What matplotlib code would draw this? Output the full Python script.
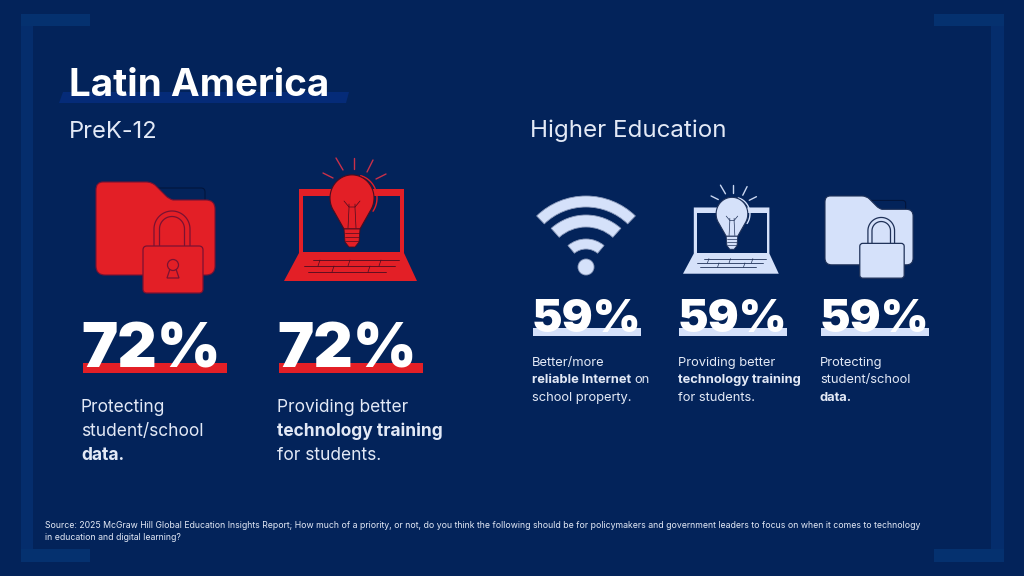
import matplotlib
matplotlib.use("Agg")
import matplotlib.pyplot as plt
import numpy as np
from matplotlib.patches import Rectangle, Polygon, Circle, Wedge, FancyBboxPatch, PathPatch
from matplotlib.path import Path

BG = "#03235a"
FRAME = "#05316f"
RED = "#e31f26"
PALE = "#d5e1fa"
TXT = "#e3e9f6"
FONT = "Inter"

title = "Latin America"
group_names = ["PreK-12", "Higher Education"]
source_lines = [
    "Source: 2025 McGraw Hill Global Education Insights Report; How much of a priority, or not, do you think the following should be for policymakers and government leaders to focus on when it comes to technology",
    "in education and digital learning?",
]

prek_values = [72, 72]
prek_icons = ["folder", "laptop"]
prek_labels = [
    [[("Protecting", False)], [("student/school", False)], [("data.", True)]],
    [[("Providing better", False)], [("technology training", True)], [("for students.", False)]],
]

higher_values = [59, 59, 59]
higher_icons = ["wifi", "laptop", "folder"]
higher_labels = [
    [[("Better/more", False)], [("reliable Internet", True), (" on", False)], [("school property.", False)]],
    [[("Providing better", False)], [("technology training", True)], [("for students.", False)]],
    [[("Protecting", False)], [("student/school", False)], [("data.", True)]],
]

fig = plt.figure(figsize=(10.24, 5.76), dpi=100, facecolor=BG)
ax = fig.add_axes([0, 0, 1, 1])
ax.set_xlim(0, 1024)
ax.set_ylim(576, 0)
ax.axis("off")


def box(x0, y0, x1, y1, color, z=1):
    ax.add_patch(Rectangle((x0, y0), x1 - x0, y1 - y0, fc=color, ec="none", zorder=z))


def rbox(x0, y0, x1, y1, r, fc, ec, lw=0.8, z=3):
    ax.add_patch(FancyBboxPatch((x0 + r, y0 + r), x1 - x0 - 2 * r, y1 - y0 - 2 * r,
                                boxstyle=f"round,pad={r}", fc=fc, ec=ec, lw=lw, zorder=z))


def line(xs, ys, color, lw=1.0, z=4):
    ax.plot(xs, ys, color=color, lw=lw, zorder=z, solid_capstyle="round")


# folder with padlock, box is x, y, scale from the red one (119 wide)
def folder_icon(x, y, s, fill, dark):
    def X(v):
        return x + v * s

    def Y(v):
        return y + v * s

    # back sheet
    rbox(X(30), Y(6), X(109), Y(40), 4 * s, "none", "#02153c", 0.8, 2)
    verts = [(7, 0), (50, 0), (56, 0), (60, 4), (70, 14), (73, 17), (77, 18), (110, 18), (119, 18),
             (119, 27), (119, 84), (119, 93), (110, 93), (9, 93), (0, 93), (0, 84), (0, 8), (0, 0), (7, 0)]
    codes = [Path.MOVETO, Path.LINETO, Path.CURVE3, Path.CURVE3, Path.LINETO, Path.CURVE3, Path.CURVE3,
             Path.LINETO, Path.CURVE3, Path.CURVE3, Path.LINETO, Path.CURVE3, Path.CURVE3, Path.LINETO,
             Path.CURVE3, Path.CURVE3, Path.LINETO, Path.CURVE3, Path.CURVE3]
    pts = [(X(a), Y(b)) for a, b in verts]
    ax.add_patch(PathPatch(Path(pts, codes), fc=fill, ec=dark, lw=0.8, zorder=3))
    # shackle
    t = np.linspace(np.pi, 2 * np.pi, 40)
    cx, cy = 76, 47
    for r in (18, 12.5):
        xs = np.r_[cx - r, cx + r * np.cos(t), cx + r]
        ys = np.r_[65, cy + r * np.sin(t), 65]
        line(X(xs), Y(ys), dark, 0.9, 4)
    rbox(X(47), Y(64), X(107), Y(111), 4 * s, fill, dark, 0.9, 5)
    # keyhole
    if s > 0.9:
        ax.add_patch(Circle((X(77), Y(83)), 5.5 * s, fc="none", ec=dark, lw=0.9, zorder=6))
        ax.add_patch(Polygon([(X(74), Y(87)), (X(71), Y(96)), (X(83), Y(96)), (X(80), Y(87))],
                             closed=False, fc="none", ec=dark, lw=0.9, zorder=6))


# laptop with bulb, red one is 133 wide and 126 high
def laptop_icon(x, y, s, fill, ray, dark):
    def X(v):
        return x + v * s

    def Y(v):
        return y + v * s

    rays = [(70, 3, 70, 14), (52, 3, 59, 15), (89, 5, 83, 17), (39, 18, 49, 23), (102, 19, 92, 24)]
    for a, b, c, d in rays:
        line([X(a), X(c)], [Y(b), Y(d)], ray, 1.0, 2)
    ax.add_patch(Polygon([(X(15), Y(34)), (X(120), Y(34)), (X(120), Y(98)), (X(133), Y(126)),
                          (X(0), Y(126)), (X(15), Y(98))], fc=fill, ec="none", zorder=2))
    box(X(19), Y(41), X(116), Y(97), BG, 3)
    # keyboard lines
    for a, b, c in [(29, 105, 115), (20, 111, 111), (24, 117, 102)]:
        line([X(a), X(c)], [Y(b), Y(b)], dark, 0.6, 4)
    for a, b in [(36, 105), (66, 105), (50, 111), (86, 111), (97, 105)]:
        line([X(a), X(a - 2)], [Y(b), Y(b + 6)], dark, 0.5, 4)
    # bulb
    t = np.linspace(np.radians(145), np.radians(395), 60)
    cx, cy, r = 68, 43, 22
    xs = np.r_[cx - 8, cx + r * np.cos(t), cx + 8]
    ys = np.r_[cy + 31, cy + r * np.sin(t) * 1.05, cy + 31]
    ax.add_patch(Polygon(np.c_[X(xs), Y(ys)], fc=fill, ec=dark, lw=0.8, zorder=5))
    # second outline, sits a bit to the right
    arc = np.linspace(np.radians(-75), np.radians(35), 30)
    line(X(cx + 3 + r * np.cos(arc)), Y(cy + r * np.sin(arc) * 1.05), fill, 1.0, 4)
    ax.add_patch(Polygon([(X(cx - 8), Y(cy + 31)), (X(cx + 8), Y(cy + 31)), (X(cx + 7), Y(cy + 44)),
                          (X(cx + 3), Y(cy + 49)), (X(cx - 3), Y(cy + 49)), (X(cx - 7), Y(cy + 44))],
                         fc=fill, ec=dark, lw=0.6, zorder=5))
    for dy in (35, 39, 43):
        line([X(cx - 7), X(cx + 7)], [Y(cy + dy), Y(cy + dy)], dark, 0.5, 6)
    # filament
    line([X(cx - 4), X(cx - 3), X(cx - 3)], [Y(cy + 30), Y(cy + 10), Y(cy + 6)], dark, 0.5, 6)
    line([X(cx + 4), X(cx + 3), X(cx + 3)], [Y(cy + 30), Y(cy + 10), Y(cy + 6)], dark, 0.5, 6)
    line([X(cx - 8), X(cx - 3), X(cx + 3), X(cx + 8)], [Y(cy + 3), Y(cy + 9), Y(cy + 9), Y(cy + 3)], dark, 0.5, 6)


def wifi_icon(cx, cy):
    ax.add_patch(Circle((cx, cy), 8, fc=PALE, ec="#8f9dbd", lw=0.6, zorder=3))
    for r0, r1, half in [(60, 71, 44), (40, 52, 42), (18, 28, 40)]:
        ax.add_patch(Wedge((cx, cy), r1, 270 - half, 270 + half, width=r1 - r0,
                           fc=PALE, ec="#8f9dbd", lw=0.6, joinstyle="round", zorder=3))


def label_lines(x, y, lines, size, step):
    renderer = fig.canvas.get_renderer()
    for i, parts in enumerate(lines):
        cur = x
        for s, bold in parts:
            # leading space is not measured, so step it by hand
            pad = size * 0.32 if s.startswith(" ") else 0
            t = ax.text(cur + pad, y + i * step, s.strip(), color=TXT, fontsize=size, family=FONT,
                        fontweight="bold" if bold else "normal", va="baseline", ha="left", zorder=8)
            cur = ax.transData.inverted().transform(t.get_window_extent(renderer).get_points())[1, 0]


# frame corners
for x0, x1, x2, x3 in [(21, 33, 21, 90), (991, 1004, 934, 1004)]:
    box(x0, 14, x1, 562, "#052d6c", 1)
    box(x2, 14, x3, 26, FRAME, 1)
    box(x2, 549, x3, 562, FRAME, 1)

# title and headings
ax.add_patch(Polygon([(63, 92), (349, 92), (346, 103), (59, 103)], fc="#052b78", ec="none", zorder=2))
ax.text(69, 95.5, title, color="white", fontsize=27.8, family=FONT, fontweight="bold", va="baseline", zorder=8)
ax.text(69, 137.5, group_names[0], color=TXT, fontsize=17, family=FONT, va="baseline", zorder=8)
ax.text(530, 137.5, group_names[1], color=TXT, fontsize=17.4, family=FONT, va="baseline", zorder=8)

# PreK-12 columns
prek_x = [81, 277]
prek_bar_x = [83, 279]
prek_icon_pos = [(96, 182), (284, 155)]
for i, val in enumerate(prek_values):
    if prek_icons[i] == "folder":
        folder_icon(prek_icon_pos[i][0], prek_icon_pos[i][1], 1.0, RED, "#7a1232")
    else:
        laptop_icon(prek_icon_pos[i][0], prek_icon_pos[i][1], 1.0, RED, "#c9304a", "#4a0d20")
    box(prek_bar_x[i], 363, prek_bar_x[i] + 144, 373, RED, 2)
    ax.text(prek_x[i], 368, f"{val}%", color="white", fontsize=44, family=FONT, fontweight="black",
            va="baseline", zorder=8)
    label_lines(prek_x[i], 412, prek_labels[i], 12.5, 24)

# Higher education columns
higher_x = [532, 678, 820]
higher_bar_x = [533, 679, 821]
higher_icon_pos = [(586, 267), (683, 183), (825, 196)]
for i, val in enumerate(higher_values):
    if higher_icons[i] == "wifi":
        wifi_icon(*higher_icon_pos[i])
    elif higher_icons[i] == "laptop":
        laptop_icon(higher_icon_pos[i][0], higher_icon_pos[i][1], 0.72, PALE, "#c9d6f0", "#1f3158")
    else:
        folder_icon(higher_icon_pos[i][0], higher_icon_pos[i][1], 0.74, PALE, "#1f3158")
    box(higher_bar_x[i], 328, higher_bar_x[i] + 108, 336, PALE, 2)
    ax.text(higher_x[i], 332, f"{val}%", color="white", fontsize=33, family=FONT, fontweight="black",
            va="baseline", zorder=8)
    label_lines(higher_x[i], 366, higher_labels[i], 9.3, 17.3)

# source note
ax.text(45, 528, source_lines[0], color=TXT, fontsize=6.28, family=FONT, va="baseline", zorder=8)
ax.text(45, 540, source_lines[1], color=TXT, fontsize=6.28, family=FONT, va="baseline", zorder=8)

fig.savefig("out.png", dpi=100, facecolor=BG)
